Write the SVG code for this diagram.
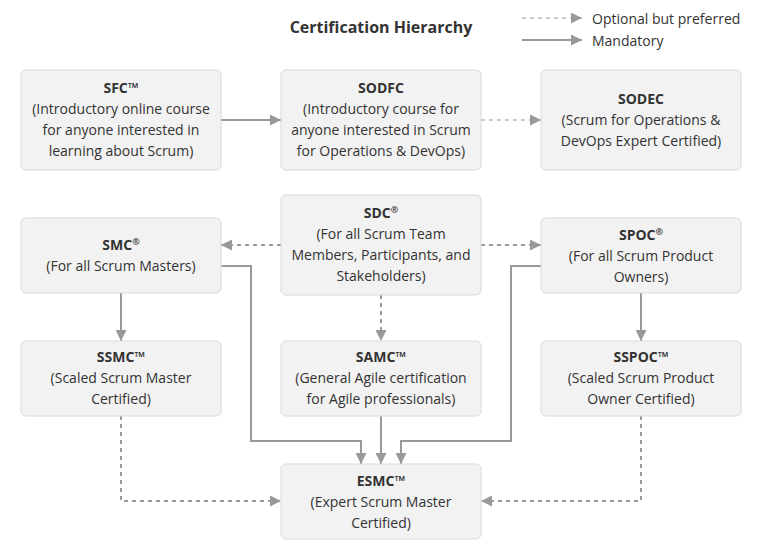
<svg xmlns="http://www.w3.org/2000/svg" width="760" height="559" viewBox="0 0 760 559">
<defs>
<style>
.box{fill:#f2f2f2;stroke:#d9d9d9;stroke-width:1}
.t{font-family:"Open Sans","Noto Sans","Liberation Sans",sans-serif;font-size:14px;fill:#333;text-anchor:middle}
.b{font-weight:bold}
.sup{font-size:9px}
.lg{font-family:"Open Sans","Noto Sans","Liberation Sans",sans-serif;font-size:14px;fill:#333}
.solid{fill:none;stroke:#999;stroke-width:2}
.dash{fill:none;stroke:#999;stroke-width:2;stroke-dasharray:4 4}
.thin{fill:none;stroke:#999;stroke-width:1;stroke-dasharray:4 4}
</style>
<marker id="ah" viewBox="0 0 10 10" refX="10" refY="5" markerWidth="11" markerHeight="11" markerUnits="userSpaceOnUse" orient="auto">
<path d="M0,0 L10,5 L0,10 z" fill="#999"/>
</marker>
</defs>
<rect width="760" height="559" fill="#fff"/>

<text class="t b" x="381" y="33" style="font-size:16px">Certification Hierarchy</text>

<g id="legend">
<line class="thin" x1="522" y1="18" x2="582" y2="18" marker-end="url(#ah)"/>
<text class="lg" x="592" y="24">Optional but preferred</text>
<line class="solid" x1="522" y1="40" x2="582" y2="40" marker-end="url(#ah)"/>
<text class="lg" x="592" y="46">Mandatory</text>
</g>

<g id="connectors">
<line class="solid" x1="221" y1="120" x2="281" y2="120" marker-end="url(#ah)"/>
<line class="thin" x1="481" y1="120" x2="541" y2="120" marker-end="url(#ah)"/>
<line class="dash" x1="281" y1="245" x2="221" y2="245" marker-end="url(#ah)"/>
<line class="dash" x1="481" y1="245" x2="541" y2="245" marker-end="url(#ah)"/>
<line class="dash" x1="381" y1="295" x2="381" y2="341" marker-end="url(#ah)"/>
<line class="solid" x1="121" y1="293" x2="121" y2="341" marker-end="url(#ah)"/>
<line class="solid" x1="641" y1="293" x2="641" y2="341" marker-end="url(#ah)"/>
<line class="solid" x1="381" y1="416" x2="381" y2="464" marker-end="url(#ah)"/>
<path class="solid" d="M221,266 H251 V441 H361 V464" marker-end="url(#ah)"/>
<path class="solid" d="M541,266 H511 V441 H401 V464" marker-end="url(#ah)"/>
<path class="dash" d="M121,416 V501 H281" marker-end="url(#ah)"/>
<path class="dash" d="M641,416 V501 H481" marker-end="url(#ah)"/>
</g>

<g id="SFC">
<rect class="box" x="21" y="70" width="200" height="100" rx="5"/>
<text class="t b" x="121" y="93">SFC™</text>
<text class="t" x="121" y="114">(Introductory online course</text>
<text class="t" x="121" y="135">for anyone interested in</text>
<text class="t" x="121" y="156">learning about Scrum)</text>
</g>

<g id="SODFC">
<rect class="box" x="281" y="70" width="200" height="100" rx="5"/>
<text class="t b" x="381" y="93">SODFC</text>
<text class="t" x="381" y="114">(Introductory course for</text>
<text class="t" x="381" y="135">anyone interested in Scrum</text>
<text class="t" x="381" y="156">for Operations &amp; DevOps)</text>
</g>

<g id="SODEC">
<rect class="box" x="541" y="70" width="200" height="100" rx="5"/>
<text class="t b" x="641" y="104">SODEC</text>
<text class="t" x="641" y="125">(Scrum for Operations &amp;</text>
<text class="t" x="641" y="146">DevOps Expert Certified)</text>
</g>

<g id="SDC">
<rect class="box" x="281" y="195" width="200" height="100" rx="5"/>
<text class="t b" x="381" y="218">SDC<tspan class="sup" dy="-5">®</tspan></text>
<text class="t" x="381" y="239">(For all Scrum Team</text>
<text class="t" x="381" y="260">Members, Participants, and</text>
<text class="t" x="381" y="281">Stakeholders)</text>
</g>

<g id="SMC">
<rect class="box" x="21" y="218" width="200" height="75" rx="5"/>
<text class="t b" x="121" y="250">SMC<tspan class="sup" dy="-5">®</tspan></text>
<text class="t" x="121" y="271">(For all Scrum Masters)</text>
</g>

<g id="SPOC">
<rect class="box" x="541" y="218" width="200" height="75" rx="5"/>
<text class="t b" x="641" y="240">SPOC<tspan class="sup" dy="-5">®</tspan></text>
<text class="t" x="641" y="261">(For all Scrum Product</text>
<text class="t" x="641" y="282">Owners)</text>
</g>

<g id="SSMC">
<rect class="box" x="21" y="341" width="200" height="75" rx="5"/>
<text class="t b" x="121" y="362">SSMC™</text>
<text class="t" x="121" y="383">(Scaled Scrum Master</text>
<text class="t" x="121" y="404">Certified)</text>
</g>

<g id="SAMC">
<rect class="box" x="281" y="341" width="200" height="75" rx="5"/>
<text class="t b" x="381" y="362">SAMC™</text>
<text class="t" x="381" y="383">(General Agile certification</text>
<text class="t" x="381" y="404">for Agile professionals)</text>
</g>

<g id="SSPOC">
<rect class="box" x="541" y="341" width="200" height="75" rx="5"/>
<text class="t b" x="641" y="362">SSPOC™</text>
<text class="t" x="641" y="383">(Scaled Scrum Product</text>
<text class="t" x="641" y="404">Owner Certified)</text>
</g>

<g id="ESMC">
<rect class="box" x="281" y="464" width="200" height="75" rx="5"/>
<text class="t b" x="381" y="486">ESMC™</text>
<text class="t" x="381" y="507">(Expert Scrum Master</text>
<text class="t" x="381" y="528">Certified)</text>
</g>
</svg>
